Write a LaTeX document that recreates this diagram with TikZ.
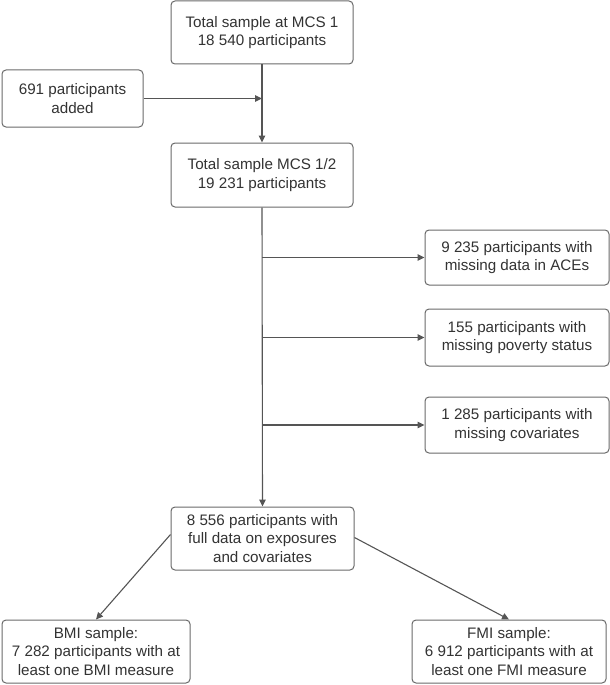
\documentclass[tikz,border=0pt]{standalone}
\usepackage{fontspec}
\setmainfont{Liberation Sans}
\usetikzlibrary{arrows.meta,calc}
\definecolor{txt}{HTML}{333333}
\definecolor{ln}{HTML}{555555}
\definecolor{bd}{HTML}{6A6A6A}
\begin{document}
\begin{tikzpicture}[x=1pt,y=-1pt,
  box/.style={draw=bd,line width=1pt,rounded corners=4pt,fill=white,align=center,
    text=txt,font=\fontsize{15.2}{18.5}\selectfont,inner sep=0pt},
  conn/.style={draw=ln,line width=1.1pt,-{Triangle[length=7pt,width=6.5pt]}}]
\useasboundingbox (0,0) rectangle (610,685);
\node[box,minimum width=182pt,minimum height=63pt] (top) at (262,32.5) {Total sample at MCS 1\\18 540 participants};
\node[box,minimum width=141pt,minimum height=57pt] (added) at (72.5,98.5) {691 participants\\added};
\node[box,minimum width=182pt,minimum height=64pt] (mcs) at (262,175) {Total sample MCS 1/2\\19 231 participants};
\node[box,minimum width=184pt,minimum height=55pt] (aces) at (517,257.5) {9 235 participants with\\missing data in ACEs};
\node[box,minimum width=184pt,minimum height=57pt] (pov) at (517,337.5) {155 participants with\\missing poverty status};
\node[box,minimum width=184pt,minimum height=56pt] (cov) at (517,425) {1 285 participants with\\missing covariates};
\node[box,minimum width=183pt,minimum height=63pt] (full) at (262.5,538.5) {8 556 participants with\\full data on exposures\\and covariates};
\node[box,minimum width=188pt,minimum height=63pt] (bmi) at (96,651.5) {BMI sample:\\7 282 participants with at\\least one BMI measure};
\node[box,minimum width=194pt,minimum height=63pt] (fmi) at (509,651.5) {FMI sample:\\6 912 participants with at\\least one FMI measure};
\coordinate (j1) at (top.south |- added.east);
\coordinate (j2) at (mcs.south |- aces.west);
\coordinate (j3) at (mcs.south |- pov.west);
\coordinate (j4) at (mcs.south |- cov.west);
\draw[conn] (top.south) -- (mcs.north);
\draw[conn] (added.east) -- (j1);
\draw[conn] (mcs.south) -- (full.north);
\draw[conn] (j2) -- (aces.west);
\draw[conn] (j3) -- (pov.west);
\draw[conn] (j4) -- (cov.west);
\draw[conn] ([yshift=4pt]full.west) -- (bmi.north);
\draw[conn] ([yshift=1pt]full.east) -- (fmi.north);
\end{tikzpicture}
\end{document}
